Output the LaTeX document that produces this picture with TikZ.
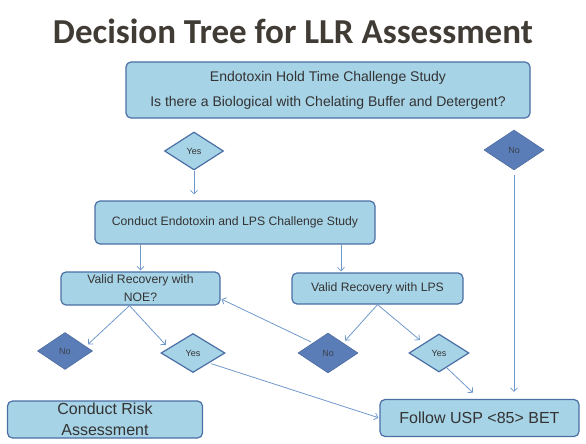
\documentclass[tikz,border=0pt]{standalone}
\usepackage{fontspec}
\setmainfont{Liberation Sans}
\newfontfamily\titlefont{Carlito}
\usepackage{tikz}
\usetikzlibrary{%
		shapes.geometric%
		,arrows.meta%
		,calc%
	}
\definecolor{boxfill}{HTML}{A7D3E6}
\definecolor{boxline}{HTML}{4A6FA5}
\definecolor{nofill}{HTML}{5A7DB8}
\definecolor{arrowblue}{HTML}{7099CB}
\definecolor{textgray}{HTML}{333333}
\definecolor{titlegray}{HTML}{403C35}

\begin{document}
\begin{tikzpicture}[x=1pt, y=-1pt,
		box/.style={draw=boxline, fill=boxfill, line width=1.2pt, rounded corners=5pt, text=textgray, align=center, inner sep=0pt},
		yesdia/.style={diamond, draw=boxline, fill=boxfill, line width=1.2pt, inner sep=0pt, text=textgray, font=\fontsize{9}{10}\selectfont},
		nodia/.style={yesdia, fill=nofill, draw=nofill!85!black, line width=0.6pt, text=textgray!80!nofill},
		arr/.style={draw=arrowblue, line width=0.8pt, -{Straight Barb[length=3.5pt,width=7pt]}}
	]
			\useasboundingbox (0,0) rectangle (586,444);
			
			% Title
			\node[anchor=base, text=titlegray, font=\titlefont\bfseries\fontsize{35}{40}\selectfont] (title) at (293,44) {Decision Tree for LLR Assessment};
			
			% Question
			\node[box, minimum width=404pt, minimum height=56pt, font=\fontsize{14}{25}\selectfont] (study) at (328,90) {Endotoxin Hold Time Challenge Study\\Is there a Biological with Chelating Buffer and Detergent?};
			
			% First answers
			\node[yesdia, minimum width=59pt, minimum height=38pt] (yesA) at (194,151) {Yes};
			\node[nodia, minimum width=60pt, minimum height=40pt] (noA) at (514,150) {No};
			
			% Challenge study
			\node[box, minimum width=280pt, minimum height=43pt, font=\fontsize{12.2}{15}\selectfont] (challenge) at (235,222.5) {Conduct Endotoxin and LPS Challenge Study};
			
			% Recovery
			\node[box, minimum width=159pt, minimum height=33pt, font=\fontsize{12.2}{18}\selectfont] (noe) at (140.5,288.5) {Valid Recovery with\\NOE?};
			\node[box, minimum width=171pt, minimum height=31pt, font=\fontsize{12.2}{15}\selectfont] (lps) at (377.5,288.5) {Valid Recovery with LPS};
			
			% Second answers
			\node[nodia, minimum width=55pt, minimum height=37pt] (noB) at (65,351) {No};
			\node[yesdia, minimum width=64pt, minimum height=39pt] (yesB) at (193,353) {Yes};
			\node[nodia, minimum width=60pt, minimum height=40pt] (noC) at (328,353) {No};
			\node[yesdia, minimum width=60pt, minimum height=38pt] (yesC) at (439,353) {Yes};
			
			% Outcomes
			\node[box, minimum width=195pt, minimum height=37pt] (risk) at (105,419.5) {};
			\node[text=textgray, align=center, font=\fontsize{16}{21}\selectfont] (risktext) at (risk) {Conduct Risk\\Assessment};
			\node[box, minimum width=199pt, minimum height=37pt, font=\fontsize{16}{19}\selectfont] (follow) at (479.5,418) {Follow USP <85> BET};
			
			% Arrows
			\draw[arr, shorten >=6pt] (yesA.south) -- (yesA.south |- challenge.north);
			\draw[arr, shorten >=1pt] (challenge.south -| noe.north) -- (noe.north);
			\draw[arr, shorten >=1pt] (challenge.south -| 341,0) -- (lps.north -| 341,0);
			\draw[arr, shorten <=5pt, shorten >=7pt] (noA.south) -- (noA.south |- follow.north);
			
			\coordinate (noefork) at ([xshift=-11pt]noe.south);
			\draw[arr, shorten >=3pt] (noefork) -- ($(noB.east)!0.5!(noB.north east)$);
			\draw[arr, shorten >=4pt] (noefork) -- ($(yesB.west)!0.5!(yesB.north west)$);
			\draw[arr, shorten >=3pt] (lps.south) -- (noC.north east);
			\draw[arr, shorten >=5pt] (lps.south) -- (yesC.north west);
			
			\draw[arr, shorten <=2pt, shorten >=1pt] (yesB.south east) -- (follow.west);
			\draw[arr, shorten <=2pt, shorten >=1pt] (noC.north west) -- ($(noe.east)!0.6!(noe.south east)$);
			\draw[arr, shorten >=9pt] ($(yesC.south)!0.5!(yesC.south east)$) -- (follow.north);
			
		\end{tikzpicture}
\end{document}
